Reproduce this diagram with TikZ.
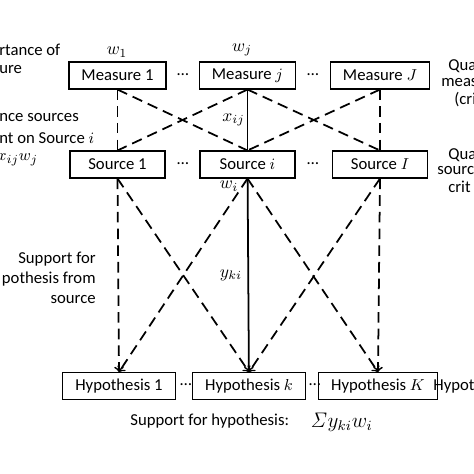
\documentclass[tikz,border=0pt]{standalone}
\usepackage[no-math]{fontspec}
\setmainfont{Carlito}
\usetikzlibrary{arrows,positioning}
\tikzset{
  box/.style={draw, line width=0.6pt, minimum height=0.54cm, inner xsep=0.25cm, font=\fontsize{9.5}{11}\selectfont},
  mbox/.style={box, minimum width=1.9cm},
  link/.style={line width=1pt, dash pattern=on 6pt off 3.5pt},
  solidlink/.style={line width=1pt},
  lbl/.style={font=\fontsize{9.5}{11.5}\selectfont, inner sep=0pt},
  dots/.style={font=\fontsize{9.5}{11}\selectfont, inner sep=0pt}
}
\begin{document}
\begin{tikzpicture}[x=0.02cm, y=-0.02cm, >=to]
  \useasboundingbox (0,0) rectangle (474,474);
  \clip (0,0) rectangle (474,474);

  % Measures
  \node[mbox] (m1) at (117.5,75.5) {Measure 1};
  \node[mbox] (mj) at (247.5,75.5) {Measure $j$};
  \node[mbox] (mJ) at (380,75.5) {Measure $J$};
  \node[dots] (dm1) at (183,75) {\dots};
  \node[dots] (dm2) at (313,75) {\dots};
  \node (w1) at (117,52) {$w_1$};
  \node (wj) at (242,50) {$w_j$};

  % Sources
  \node[mbox] (s1) at (117.5,164.5) {Source 1};
  \node[mbox] (si) at (247.5,164.5) {Source $i$};
  \node[mbox] (sI) at (380,164.5) {Source $I$};
  \node[dots] (ds1) at (183,164) {\dots};
  \node[dots] (ds2) at (313,164) {\dots};

  % Hypotheses
  \node[box] (h1) at (119,386) {Hypothesis 1};
  \node[box] (hk) at (249,386) {Hypothesis $k$};
  \node[box] (hK) at (378,386) {Hypothesis $K$};
  \node[dots] (dh1) at (186,385) {\dots};
  \node[dots] (dh2) at (315,385) {\dots};

  % Measures to sources
  \draw[link] (m1) -- (s1);
  \draw[link] (m1.south) -- (si.north);
  \draw[link] (mj.south) -- (s1.north);
  \draw[solidlink] (mj) -- (si) node[pos=0.5, left, inner sep=1pt] (xij) {$x_{ij}$};
  \draw[link] (mj.south) -- (sI.north);
  \draw[link] (mJ.south) -- (si.north);
  \draw[link] (mJ) -- (sI);

  % Sources to hypotheses
  \draw[link,->] (s1.south) -- (h1.north);
  \draw[link,->] (s1.south) -- (hk.north);
  \draw[link,->] (si.south) -- (h1.north);
  \draw[solidlink,->] (si) -- (hk) node[pos=0.5, left, inner sep=3pt] (yki) {$y_{ki}$};
  \draw[link,->] (si.south) -- (hK.north);
  \draw[link,->] (sI.south) -- (hk.north);
  \draw[link,->] (sI.south) -- (hK.north);
  \node[inner sep=0pt] (wi) at (229,186) {$w_i$};

  % Left texts
  \node[lbl, anchor=west] (imp1) at (-1,50) {rtance of};
  \node[lbl, anchor=west] (imp2) at (-1,70) {ure};
  \node[lbl, anchor=west] (inf1) at (-1,118) {nce sources};
  \node[lbl, anchor=west] (inf2) at (-1,138) {nt on Source $i$};
  \node[lbl, anchor=west] (inf3) at (-3,160) {$x_{ij}w_j$};
  \node[lbl, anchor=east, align=right] (sup) at (96,278) {Support for\\pothesis from\\source};

  % Right texts
  \node[lbl, anchor=west] (qm1) at (448,66) {Qua};
  \node[lbl, anchor=west] (qm2) at (441,83) {meas};
  \node[lbl, anchor=west] (qm3) at (454,100) {(crit};
  \node[lbl, anchor=west] (qs1) at (448,155) {Qual};
  \node[lbl, anchor=west] (qs2) at (437,171) {sourc};
  \node[lbl, anchor=west] (qs3) at (448,187) {crit};
  \node[lbl, anchor=west] (hyp) at (433,386) {Hypot};

  % Bottom
  \node[lbl, anchor=west] (tot) at (130,421) {Support for hypothesis:};
  \node[anchor=west, inner sep=0pt, font=\large] (sum) at (310,422) {$\mathit{\Sigma} y_{ki}w_i$};
\end{tikzpicture}
\end{document}
